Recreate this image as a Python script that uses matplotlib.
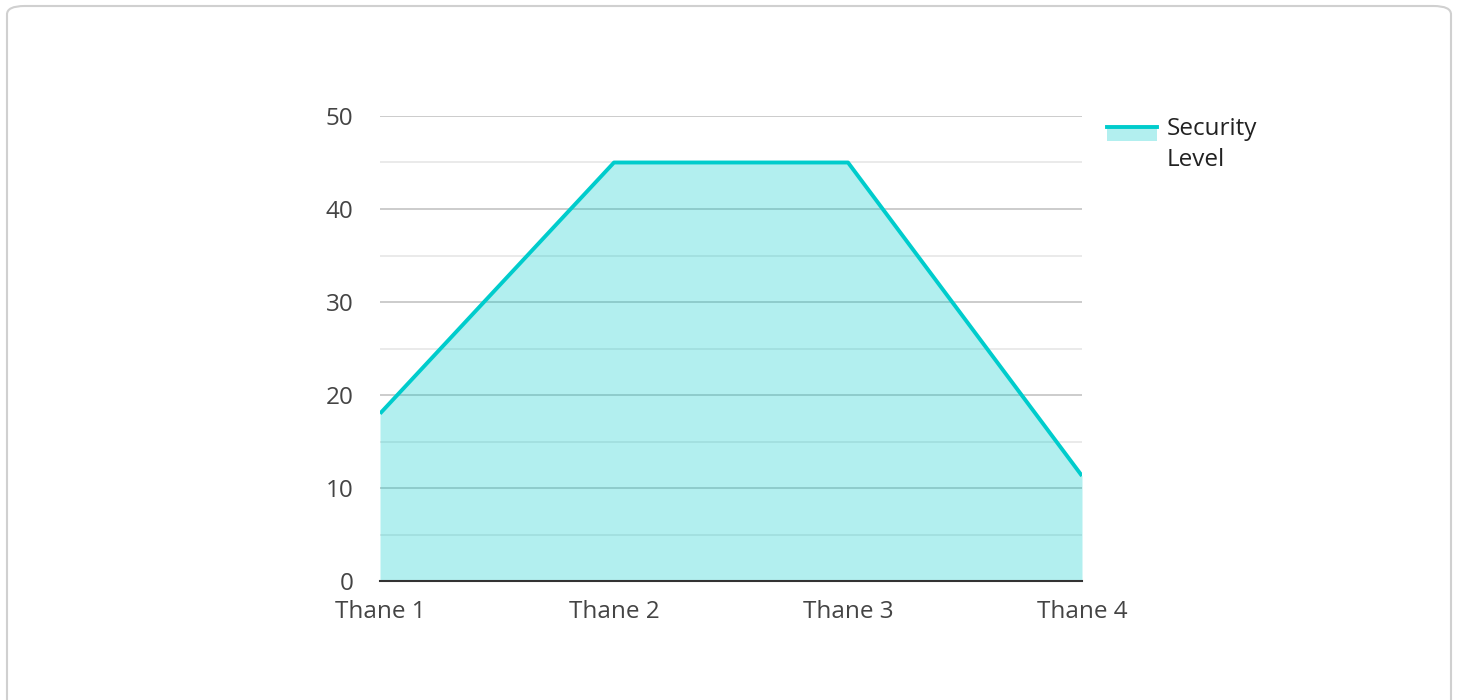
import matplotlib.pyplot as plt
from matplotlib.patches import FancyBboxPatch, Rectangle
from matplotlib.lines import Line2D
import numpy as np

categories = ["Thane 1", "Thane 2", "Thane 3", "Thane 4"]
security_level = [18, 45, 45, 11.3]
series_name = "Security\nLevel"

plt.rcParams["font.family"] = ["Open Sans", "DejaVu Sans"]
plt.rcParams["font.stretch"] = "normal"

W, H = 1458, 700
fig = plt.figure(figsize=(W / 100, H / 100), dpi=100)

# rounded card border
fig.add_artist(FancyBboxPatch((7 / W, -20 / H), 1444 / W, (H - 6 + 20) / H,
                              boxstyle="round,pad=0,rounding_size=0.012",
                              transform=fig.transFigure, facecolor="white",
                              edgecolor="#d0d0d0", linewidth=1.5, zorder=0))

ax = fig.add_axes([380 / W, 1 - 581 / H, (1082 - 380) / W, (581 - 116) / H])
ax.set_facecolor("none")
x = np.arange(len(categories))
color = "#00cccc"
ax.fill_between(x, security_level, 0, color=color, alpha=0.3, linewidth=0, zorder=2)
ax.plot(x, security_level, color=color, linewidth=2.8, zorder=3, solid_capstyle="butt")

ax.set_xlim(0, len(categories) - 1)
ax.set_ylim(0, 50)
ax.set_yticks(range(0, 51, 10))
ax.set_yticks(range(5, 50, 10), minor=True)
ax.grid(True, which="major", axis="y", color="#c4c4c4", linewidth=1.2, zorder=1)
ax.grid(True, which="minor", axis="y", color="#e6e6e6", linewidth=1.2, zorder=1)
ax.set_axisbelow(True)
ax.set_xticks(x)
ax.set_xticklabels(categories)
ax.tick_params(axis="both", which="both", length=0, labelsize=17.5, colors="#444444")
ax.tick_params(axis="y", pad=19)
ax.tick_params(axis="x", pad=14)
for s in ["top", "right", "left"]:
    ax.spines[s].set_visible(False)
ax.spines["bottom"].set_color("#333333")
ax.spines["bottom"].set_linewidth(1.5)
ax.spines["bottom"].set_zorder(4)

# legend drawn by hand at the right
fig.add_artist(Rectangle((1107 / W, 1 - 141 / H), 50 / W, 15 / H,
                         transform=fig.transFigure, facecolor=color, alpha=0.3,
                         linewidth=0))
fig.add_artist(Line2D([1107 / W, 1157 / W], [1 - 127 / H, 1 - 127 / H],
                      transform=fig.transFigure, color=color, linewidth=2.8))
fig.text(1167 / W, 1 - 117 / H, series_name, fontsize=17.5, color="#222222",
         va="top", ha="left", linespacing=1.38)

fig.savefig("out.png", dpi=100)
